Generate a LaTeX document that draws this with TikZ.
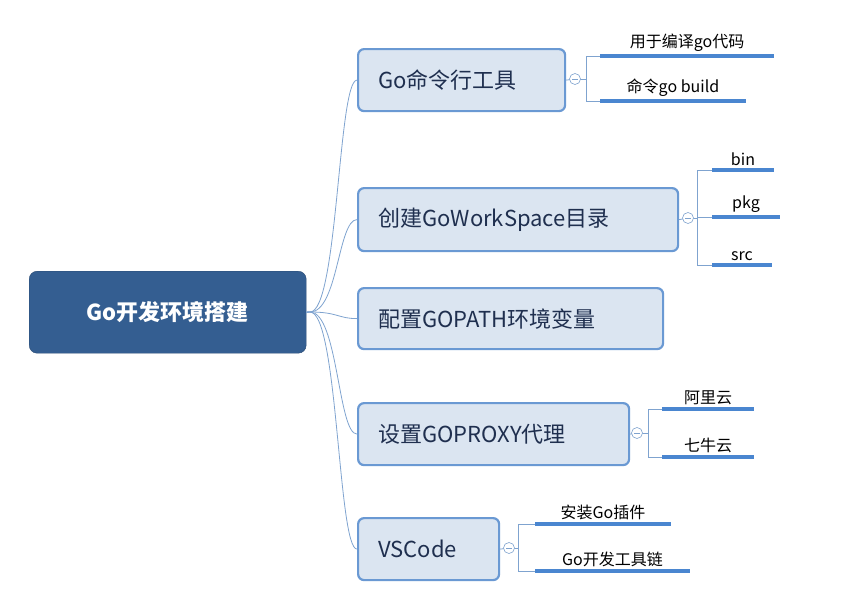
\documentclass[tikz,border=0pt]{standalone}
\usepackage{fontspec}
\setmainfont{Noto Sans CJK SC}
\usetikzlibrary{calc}
\begin{document}
\begin{tikzpicture}[x=1pt,y=-1pt,
  br/.style={draw=c2,line width=2.2pt,fill=c1,rounded corners=6pt,inner sep=0pt},
  bt/.style={anchor=west,inner sep=0pt,font=\fontsize{22}{26}\selectfont,text=c3},
  lf/.style={font=\fontsize{16}{18}\selectfont,anchor=south,inner sep=3pt},
  ul/.style={draw=c4,line width=3.5pt},
  con/.style={draw=c5,line width=0.8pt},
  tog/.style={circle,draw=c5,fill=white,minimum size=11pt,inner sep=0pt,line width=0.6pt}]
\definecolor{c1}{HTML}{DBE5F1}\definecolor{c2}{HTML}{6A99D3}\definecolor{c3}{HTML}{1F2F4F}
\definecolor{c4}{HTML}{4A86D0}\definecolor{c5}{HTML}{7FA3CF}\definecolor{c6}{HTML}{345E91}
\useasboundingbox (0,0) rectangle (865,611);
\node[fill=c6,draw=c6!80!black,rounded corners=8pt,minimum width=277pt,minimum height=82pt,anchor=north west,text=white,font=\fontsize{22}{26}\selectfont\bfseries] (root) at (29,271) {Go开发环境搭建};
\newcommand{\branch}[6]{% name x1 y1 x2 y2 text
  \node[br,fit/.style={},minimum width={#4-#2},minimum height={#5-#3},anchor=north west] (#1) at (#2,#3) {};
  \node[bt] (#1t) at ($(#1.west)+(21,0)$) {#6};}
\branch{n1}{357}{48}{564}{110}{Go命令行工具}
\branch{n2}{357}{187}{677}{250}{创建GoWorkSpace目录}
\branch{n3}{357}{287}{662}{348}{配置GOPATH环境变量}
\branch{n4}{357}{402}{628}{464}{设置GOPROXY代理}
\branch{n5}{357}{517}{498}{579}{VSCode}
\coordinate (r) at (310,312);
\foreach \n in {n1,n2,n3,n4,n5}{
  \draw[con] (root.east) -- (r) .. controls (338,312) and (338,0|-\n.west) .. (\n.west);}
\newcommand{\leaf}[6]{% name, x1, x2, y, bracket x, text
  \coordinate (#1a) at (#2,#4); \coordinate (#1b) at (#3,#4);
  \draw[ul] (#1a) -- (#1b);
  \node[lf] (#1t) at ($(#1a)!0.5!(#1b)+(0,-1)$) {#6};
  \draw[con] (#5,#4) -- (#1a);}
% node1
\draw[con] (n1.east) -- (575,79); \draw[con] (586,56) -- (586,101); \draw[con] (580,79) -- (586,79);
\node[tog] (t1) at (575,79) {}; \draw[c5] (572,79)--(578,79);
\leaf{a1}{600}{774}{56}{586}{用于编译go代码}
\leaf{a2}{600}{746}{101}{586}{命令go build}
% node2
\draw[con] (n2.east) -- (688,218); \draw[con] (697,170) -- (697,265); \draw[con] (693,218) -- (697,218);
\node[tog] (t2) at (688,218) {}; \draw[c5] (685,218)--(691,218);
\leaf{b1}{712}{774}{170}{697}{bin}
\leaf{b2}{712}{780}{217}{697}{pkg}
\leaf{b3}{712}{772}{265}{697}{src}
% node4
\draw[con] (n4.east) -- (637,433); \draw[con] (648,409) -- (648,457); \draw[con] (642,433) -- (648,433);
\node[tog] (t4) at (637,433) {}; \draw[c5] (634,433)--(640,433);
\leaf{d1}{662}{754}{409}{648}{阿里云}
\leaf{d2}{662}{754}{457}{648}{七牛云}
% node5
\draw[con] (n5.east) -- (509,548); \draw[con] (518,524) -- (518,571); \draw[con] (514,548) -- (518,548);
\node[tog] (t5) at (509,548) {}; \draw[c5] (506,548)--(512,548);
\leaf{e1}{535}{671}{524}{518}{安装Go插件}
\leaf{e2}{535}{690}{571}{518}{Go开发工具链}
\end{tikzpicture}
\end{document}
